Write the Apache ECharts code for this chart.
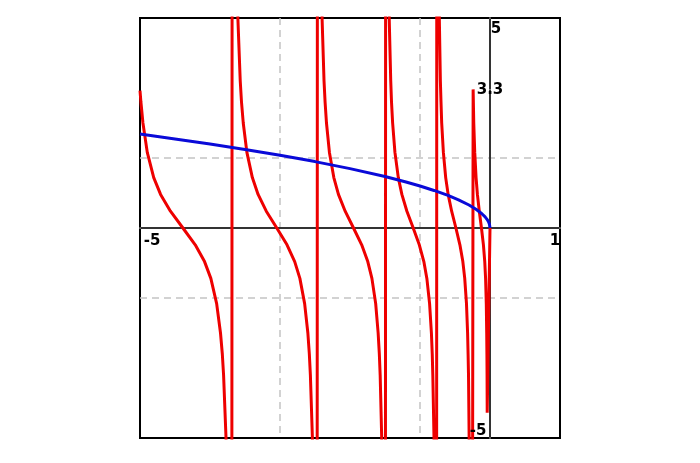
<!DOCTYPE html>
<html>
<head>
<meta charset="utf-8">
<script src="https://cdn.jsdelivr.net/npm/echarts@6/dist/echarts.min.js"></script>
<style>
  html, body { margin: 0; padding: 0; background: #fff; }
  #chart { width: 700px; height: 463px; }
</style>
</head>
<body>
<div id="chart"></div>
<script>
// red curve, read branch by branch (points beyond +-5 only close the jumps)
const redBranch1 = [[-5, 3.27], [-4.987, 3], [-4.958, 2.5], [-4.896, 1.8], [-4.804, 1.2], [-4.706, 0.8], [-4.565, 0.4],
    [-4.387, 0], [-4.211, -0.4], [-4.078, -0.8], [-3.988, -1.2], [-3.905, -1.8], [-3.850, -2.5],
    [-3.824, -3], [-3.806, -3.5], [-3.771, -5], [-3.697, -40]];
const redBranch2 = [[-3.675, 40], [-3.602, 5], [-3.568, 3.5], [-3.550, 3], [-3.525, 2.5], [-3.473, 1.8], [-3.395, 1.2],
    [-3.313, 0.8], [-3.196, 0.4], [-3.046, 0], [-2.900, -0.4], [-2.790, -0.8], [-2.716, -1.2],
    [-2.648, -1.8], [-2.602, -2.5], [-2.581, -3], [-2.566, -3.5], [-2.537, -5], [-2.476, -40]];
const redBranch3 = [[-2.459, 40], [-2.399, 5], [-2.371, 3.5], [-2.356, 3], [-2.336, 2.5], [-2.294, 1.8], [-2.231, 1.2],
    [-2.165, 0.8], [-2.069, 0.4], [-1.950, 0], [-1.833, -0.4], [-1.746, -0.8], [-1.687, -1.2],
    [-1.633, -1.8], [-1.598, -2.5], [-1.581, -3], [-1.569, -3.5], [-1.547, -5], [-1.499, -40]];
const redBranch4 = [[-1.486, 40], [-1.440, 5], [-1.418, 3.5], [-1.407, 3], [-1.391, 2.5], [-1.358, 1.8], [-1.310, 1.2],
    [-1.259, 0.8], [-1.187, 0.4], [-1.097, 0], [-1.010, -0.4], [-0.945, -0.8], [-0.902, -1.2],
    [-0.863, -1.8], [-0.837, -2.5], [-0.825, -3], [-0.817, -3.5], [-0.800, -5], [-0.766, -40]];
const redBranch5 = [[-0.757, 40], [-0.724, 5], [-0.709, 3.5], [-0.700, 3], [-0.690, 2.5], [-0.666, 1.8], [-0.633, 1.2],
    [-0.598, 0.8], [-0.548, 0.4], [-0.487, 0], [-0.430, -0.4], [-0.388, -0.8], [-0.361, -1.2],
    [-0.336, -1.8], [-0.320, -2.5], [-0.313, -3], [-0.307, -3.5], [-0.298, -5], [-0.277, -40]];
const redBranch6 = [[-0.241, 3.3], [-0.232, 2.5], [-0.218, 1.8], [-0.199, 1.2], [-0.180, 0.8], [-0.153, 0.4],
    [-0.122, 0], [-0.094, -0.4], [-0.075, -0.8], [-0.063, -1.2], [-0.053, -1.8], [-0.047, -2.5],
    [-0.044, -3], [-0.042, -3.5], [-0.040, -4.4], [0, 0]];

// blue curve
const blueLine = [[-5, 2.236], [-4.5, 2.121], [-4, 2], [-3.5, 1.871], [-3, 1.732], [-2.5, 1.581],
    [-2, 1.414], [-1.5, 1.225], [-1.2, 1.095], [-1, 1], [-0.8, 0.894], [-0.6, 0.775], [-0.45, 0.671],
    [-0.3, 0.548], [-0.2, 0.447], [-0.12, 0.346], [-0.07, 0.265], [-0.04, 0.2], [-0.02, 0.141],
    [-0.008, 0.089], [0, 0]];

// axis text
const tickLabels = [
    { name: '-5', value: [-5, 0] },
    { name: '1', value: [1, 0] },
    { name: '5', value: [0, 5] },
    { name: '3.3', value: [0, 3.3] },
    { name: '-5', value: [0, -5] }
];
const labelOffsets = [[12, 13], [-5, 13], [6, 11], [0, 1], [-12, -7]];

const redLine = [].concat(redBranch1, redBranch2, redBranch3, redBranch4, redBranch5, redBranch6);

const chart = echarts.init(document.getElementById('chart'), null, { renderer: 'canvas' });

const dashed = { color: '#c4c4c4', type: [7, 5], width: 1.5 };

const option = {
    animation: false,
    backgroundColor: '#fff',
    grid: {
        show: true,
        left: 140, right: 140, top: 18, bottom: 25,
        borderColor: '#000',
        borderWidth: 2,
        backgroundColor: 'transparent'
    },
    xAxis: [{
        type: 'value', min: -5, max: 1,
        position: 'bottom',
        axisLine: { onZero: true, onZeroAxisIndex: 0, lineStyle: { color: '#333', width: 2 } },
        axisTick: { show: false },
        axisLabel: { show: false },
        splitLine: { show: false }
    }, {
        // only for the 3x3 dashed grid
        type: 'value', min: 0, max: 3, interval: 1,
        position: 'top',
        axisLine: { show: false },
        axisTick: { show: false },
        axisLabel: { show: false },
        splitLine: { show: true, showMinLine: false, showMaxLine: false, lineStyle: dashed }
    }],
    yAxis: [{
        type: 'value', min: -5, max: 5,
        position: 'left',
        axisLine: { onZero: true, onZeroAxisIndex: 0, lineStyle: { color: '#333', width: 2 } },
        axisTick: { show: false },
        axisLabel: { show: false },
        splitLine: { show: false }
    }, {
        type: 'value', min: 0, max: 3, interval: 1,
        position: 'right',
        axisLine: { show: false },
        axisTick: { show: false },
        axisLabel: { show: false },
        splitLine: { show: true, showMinLine: false, showMaxLine: false, lineStyle: dashed }
    }],
    series: [{
        name: 'red',
        type: 'line',
        data: redLine,
        showSymbol: false,
        clip: true,
        lineStyle: { color: '#ee0000', width: 3 },
        z: 2
    }, {
        name: 'blue',
        type: 'line',
        data: blueLine,
        showSymbol: false,
        clip: true,
        lineStyle: { color: '#0a0ad8', width: 3 },
        z: 3
    }, {
        name: 'labels',
        type: 'scatter',
        clip: false,
        symbolSize: 1,
        itemStyle: { color: '#fff', opacity: 1 },
        data: tickLabels.map(function (d, i) {
            return {
                name: d.name,
                value: d.value,
                label: { offset: labelOffsets[i] }
            };
        }),
        label: {
            show: true,
            position: 'inside',
            formatter: '{b}',
            color: '#000',
            textBorderWidth: 0,
            textBorderColor: 'transparent',
            opacity: 1,
            fontFamily: 'DejaVu Sans',
            fontWeight: 'bold',
            fontSize: 15
        },
        z: 5
    }]
};

chart.setOption(option);
</script>
</body>
</html>
